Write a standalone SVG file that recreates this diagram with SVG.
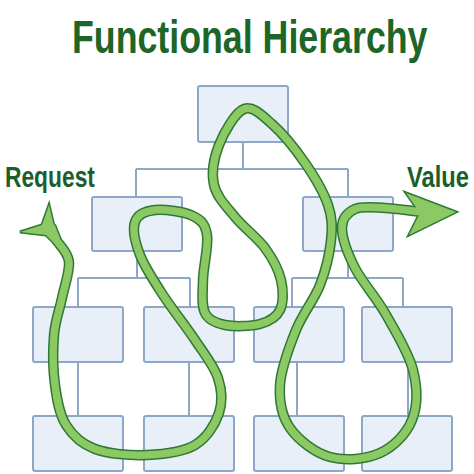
<svg xmlns="http://www.w3.org/2000/svg" width="474" height="474" viewBox="0 0 474 474">
<style>
.box{fill:#e9eff8;stroke:#8fa7c6;stroke-width:2}
.ln{fill:none;stroke:#8fa7c6;stroke-width:2}
.title{font-family:"Liberation Sans",Arial,sans-serif;font-weight:bold;fill:#1d6628}
.lbl{font-family:"Liberation Sans",Arial,sans-serif;font-weight:bold;fill:#1b5e2b}
.flowOuter{fill:none;stroke:#2e7a33;stroke-width:10.5;stroke-linecap:butt;stroke-linejoin:round}
.flowInner{fill:none;stroke:#8cc863;stroke-width:7.5;stroke-linecap:butt;stroke-linejoin:round}
.headOutline{fill:#2e7a33;stroke:#2e7a33;stroke-width:3;stroke-linejoin:miter}
.headFill{fill:#8cc863;stroke:none}
</style>
<defs>
<path id="flowPath" d="M51,226 L57,241 C59,244.5 68.2,252.5 69,262 C69.8,271.5 64.5,285.8 62,298 C59.5,310.2 55.2,320.5 54,335 C52.8,349.5 53,370 55,385 C57,400 59.3,414.3 66,425 C72.7,435.7 81.5,444 95,449 C108.5,454 130.3,455.7 147,455 C163.7,454.3 183,452 195,445 C207,438 215.2,424.2 219,413 C222.8,401.8 222,390.2 218,378 C214,365.8 204.2,353.8 195,340 C185.8,326.2 172.2,309.2 163,295 C153.8,280.8 144.7,267.2 140,255 C135.3,242.8 132.5,229.5 135,222 C137.5,214.5 145.3,211 155,210 C164.7,209 184.3,211.8 193,216 C201.7,220.2 205.3,224.3 207,235 C208.7,245.7 203.3,267 203,280 C202.7,293 201.3,305.5 205,313 C208.7,320.5 215.8,323.2 225,325 C234.2,326.8 250.8,326.5 260,324 C269.2,321.5 276.5,317.3 280,310 C283.5,302.7 283.5,290.3 281,280 C278.5,269.7 272.7,258.5 265,248 C257.3,237.5 243.5,227.5 235,217 C226.5,206.5 216.7,197 214,185 C211.3,173 214,157.7 219,145 C224,132.3 235.2,112.5 244,109 C252.8,105.5 261.8,115 272,124 C282.2,133 295.7,149.5 305,163 C314.3,176.5 323.7,192.2 328,205 C332.3,217.8 332.3,226.7 331,240 C329.7,253.3 325.8,270 320,285 C314.2,300 302.7,313.3 296,330 C289.3,346.7 281,368.7 280,385 C279,401.3 281.7,416 290,428 C298.3,440 315,452.8 330,457 C345,461.2 366.3,459.2 380,453 C393.7,446.8 406.5,433.8 412,420 C417.5,406.2 417.5,387.8 413,370 C408.5,352.2 394.7,330 385,313 C375.3,296 362.2,282.2 355,268 C347.8,253.8 342,237.8 342,228 C342,218.2 347.8,212.3 355,209 C362.2,205.7 374.2,207.5 385,208 C395.8,208.5 414.2,211.3 424,212"/>
<polygon id="headL" points="49,205 56,235 63,247 56,245 46,235 20,232 42,225"/>
<polygon id="headR" points="406,193 456,212 409,235 420,213"/>
</defs>
<rect width="474" height="474" fill="#ffffff"/>
<text class="title" transform="translate(72,53) scale(0.777,1)" x="0" y="0" font-size="46">Functional Hierarchy</text>
<text class="lbl" transform="translate(5,187) scale(0.76,1)" x="0" y="0" font-size="30">Request</text>
<text class="lbl" transform="translate(407,187) scale(0.79,1)" x="0" y="0" font-size="30">Value</text>
<g id="connectors">
<path class="ln" d="M243,142 V169 M136,169 H348 M136,169 V197 M348,169 V197"/>
<path class="ln" d="M137,251 V278 M78,278 H190 M78,278 V307 M190,278 V307"/>
<path class="ln" d="M348,251 V278 M292,278 H403 M292,278 V307 M403,278 V307"/>
<path class="ln" d="M78,362 V416 M189,362 V416 M297,362 V416 M408,362 V416"/>
</g>
<g id="n-top"><rect class="box" x="198" y="86" width="90" height="56" rx="2"/></g>
<g id="n-l2a"><rect class="box" x="92" y="197" width="90" height="54" rx="2"/></g>
<g id="n-l2b"><rect class="box" x="303" y="197" width="90" height="54" rx="2"/></g>
<g id="n-l3a"><rect class="box" x="33" y="307" width="90" height="55" rx="2"/></g>
<g id="n-l3b"><rect class="box" x="144" y="307" width="90" height="55" rx="2"/></g>
<g id="n-l3c"><rect class="box" x="254" y="307" width="90" height="55" rx="2"/></g>
<g id="n-l3d"><rect class="box" x="362" y="307" width="90" height="55" rx="2"/></g>
<g id="n-l4a"><rect class="box" x="33" y="416" width="90" height="55" rx="2"/></g>
<g id="n-l4b"><rect class="box" x="144" y="416" width="90" height="55" rx="2"/></g>
<g id="n-l4c"><rect class="box" x="254" y="416" width="90" height="55" rx="2"/></g>
<g id="n-l4d"><rect class="box" x="362" y="416" width="90" height="55" rx="2"/></g>
<g id="flow">
<use href="#headL" class="headOutline"/>
<use href="#headR" class="headOutline"/>
<use href="#flowPath" class="flowOuter"/>
<use href="#headL" class="headFill"/>
<use href="#headR" class="headFill"/>
<use href="#flowPath" class="flowInner"/>
</g>
</svg>
